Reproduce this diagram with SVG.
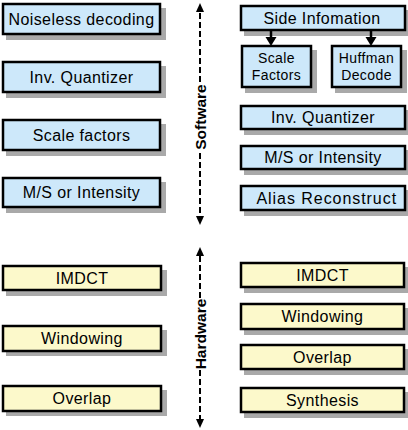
<svg xmlns="http://www.w3.org/2000/svg" width="408" height="430" viewBox="0 0 408 430">
<defs>
<style>
.sh{fill:#a9a9a9;stroke:none}
.sw{fill:#cde8fa;stroke:#000;stroke-width:2.5}
.hw{fill:#fcf9cb;stroke:#000;stroke-width:2.5}
.t{font-family:"Liberation Sans",Arial,sans-serif;font-size:16px;letter-spacing:0.4px;fill:#000;text-anchor:middle}
.s{font-size:14px}
.lbl{font-family:"Liberation Sans",Arial,sans-serif;font-size:15.5px;font-weight:bold;fill:#000;text-anchor:middle}
.dash{stroke:#000;stroke-width:2;stroke-dasharray:6,3;fill:none}
.ar{stroke:#000;stroke-width:2.5;fill:none}
</style>
</defs>
<rect width="408" height="430" fill="#fff"/>

<!-- Left software -->
<g id="noiseless"><rect class="sh" x="6" y="8" width="160" height="32"/><rect class="sw" x="3" y="4" width="157" height="30"/><text class="t" x="81.5" y="25">Noiseless decoding</text></g>
<g id="invq-l"><rect class="sh" x="6" y="66" width="160" height="32"/><rect class="sw" x="3" y="62" width="157" height="30"/><text class="t" x="81.5" y="83">Inv. Quantizer</text></g>
<g id="scale-l"><rect class="sh" x="6" y="124" width="160" height="32"/><rect class="sw" x="3" y="120" width="157" height="30"/><text class="t" x="81.5" y="141">Scale factors</text></g>
<g id="ms-l"><rect class="sh" x="6" y="182" width="160" height="31"/><rect class="sw" x="3" y="178" width="157" height="29"/><text class="t" x="81.5" y="198">M/S or Intensity</text></g>

<!-- Left hardware -->
<g id="imdct-l"><rect class="sh" x="6" y="270" width="161" height="26"/><rect class="hw" x="3" y="266" width="158" height="24"/><text class="t" x="82" y="284">IMDCT</text></g>
<g id="win-l"><rect class="sh" x="6" y="330" width="161" height="26"/><rect class="hw" x="3" y="326" width="158" height="25"/><text class="t" x="82" y="344">Windowing</text></g>
<g id="ovl-l"><rect class="sh" x="6" y="390" width="161" height="26"/><rect class="hw" x="3" y="386" width="158" height="25"/><text class="t" x="82" y="404">Overlap</text></g>

<!-- Right software -->
<g id="side"><rect class="sh" x="244" y="10" width="166" height="26"/><rect class="sw" x="241" y="6" width="164" height="24"/><text class="t" x="322" y="24">Side Infomation</text></g>
<g id="scale-r"><rect class="sh" x="245" y="50" width="72" height="43"/><rect class="sw" x="242" y="46" width="69" height="41"/><text class="t s" x="276.5" y="63">Scale</text><text class="t s" x="276.5" y="80">Factors</text></g>
<g id="huff"><rect class="sh" x="335" y="50" width="72" height="43"/><rect class="sw" x="332" y="46" width="69" height="41"/><text class="t s" x="366.5" y="63">Huffman</text><text class="t s" x="366.5" y="80">Decode</text></g>
<g id="invq-r"><rect class="sh" x="244" y="110" width="166" height="25"/><rect class="sw" x="241" y="106" width="164" height="23"/><text class="t" x="323" y="123">Inv. Quantizer</text></g>
<g id="ms-r"><rect class="sh" x="244" y="150" width="166" height="25"/><rect class="sw" x="241" y="146" width="164" height="23"/><text class="t" x="323" y="163">M/S or Intensity</text></g>
<g id="alias"><rect class="sh" x="244" y="190" width="166" height="26"/><rect class="sw" x="241" y="186" width="164" height="24"/><text class="t" x="326.5" y="204" textLength="140" lengthAdjust="spacing">Alias Reconstruct</text></g>

<!-- Right hardware -->
<g id="imdct-r"><rect class="sh" x="244" y="267" width="166" height="26"/><rect class="hw" x="241" y="263" width="163" height="24"/><text class="t" x="322.5" y="281">IMDCT</text></g>
<g id="win-r"><rect class="sh" x="244" y="308" width="166" height="27"/><rect class="hw" x="241" y="304" width="163" height="25"/><text class="t" x="322.5" y="322">Windowing</text></g>
<g id="ovl-r"><rect class="sh" x="244" y="349" width="166" height="26"/><rect class="hw" x="241" y="345" width="163" height="24"/><text class="t" x="322.5" y="363">Overlap</text></g>
<g id="syn-r"><rect class="sh" x="244" y="392" width="166" height="26"/><rect class="hw" x="241" y="388" width="163" height="24"/><text class="t" x="322.5" y="406">Synthesis</text></g>

<!-- Labels -->
<g id="software-label"><text class="lbl" transform="translate(205.5,117) rotate(-90)">Software</text></g>
<g id="hardware-label"><text class="lbl" transform="translate(205.5,334) rotate(-90)">Hardware</text></g>

<!-- Connectors -->
<g id="connectors">
<line class="dash" x1="200" y1="82" x2="200" y2="10"/>
<path d="M200,3 L196,12 L204,12 z" fill="#000"/>
<line class="dash" x1="200" y1="153" x2="200" y2="217"/>
<path d="M200,225 L196,216 L204,216 z" fill="#000"/>
<line class="dash" x1="200" y1="298" x2="200" y2="255"/>
<path d="M200,247 L196,256 L204,256 z" fill="#000"/>
<line class="dash" x1="200" y1="370" x2="200" y2="420"/>
<path d="M200,428 L196,419 L204,419 z" fill="#000"/>
<line class="ar" x1="271" y1="31" x2="271" y2="38"/>
<path d="M271,46 L265.5,37 L276.5,37 z" fill="#000"/>
<line class="ar" x1="371" y1="31" x2="371" y2="38"/>
<path d="M371,46 L365.5,37 L376.5,37 z" fill="#000"/>
</g>
</svg>
